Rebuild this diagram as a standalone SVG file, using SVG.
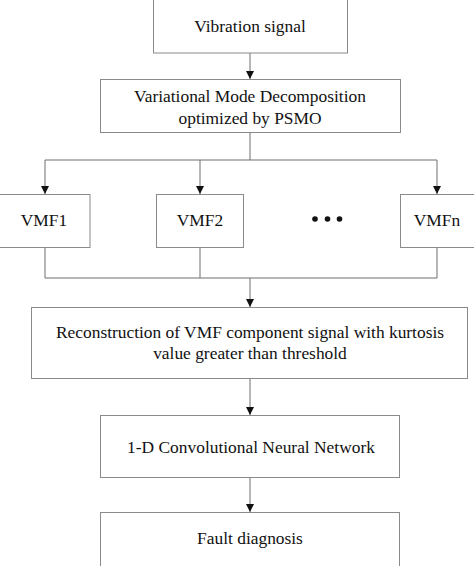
<svg xmlns="http://www.w3.org/2000/svg" width="474" height="566" viewBox="0 0 474 566">
<defs>
<style>
.box{fill:#fff;stroke:#8a8a8a;stroke-width:1}
.ln{fill:none;stroke:#6e6e6e;stroke-width:1}
text{font-family:"Liberation Serif","Times New Roman",serif;font-size:17.4px;fill:#111;text-anchor:middle}
</style>
<marker id="ah" viewBox="0 0 8 10" refX="8" refY="5" markerWidth="8" markerHeight="10" markerUnits="userSpaceOnUse" orient="auto">
<path d="M0,1 L8,5 L0,9 Z" fill="#111"/>
</marker>
</defs>
<rect width="474" height="566" fill="#fff"/>
<g id="connectors">
<line class="ln" x1="250" y1="53" x2="250" y2="79" marker-end="url(#ah)"/>
<line class="ln" x1="250" y1="132" x2="250" y2="160"/>
<line class="ln" x1="45" y1="160" x2="437" y2="160"/>
<line class="ln" x1="45" y1="160" x2="45" y2="194" marker-end="url(#ah)"/>
<line class="ln" x1="200" y1="160" x2="200" y2="194" marker-end="url(#ah)"/>
<line class="ln" x1="437" y1="160" x2="437" y2="194" marker-end="url(#ah)"/>
<line class="ln" x1="45" y1="247" x2="45" y2="278"/>
<line class="ln" x1="200" y1="247" x2="200" y2="278"/>
<line class="ln" x1="437" y1="247" x2="437" y2="278"/>
<line class="ln" x1="45" y1="278" x2="437" y2="278"/>
<line class="ln" x1="250" y1="278" x2="250" y2="307" marker-end="url(#ah)"/>
<line class="ln" x1="250" y1="378" x2="250" y2="415" marker-end="url(#ah)"/>
<line class="ln" x1="250" y1="477" x2="250" y2="512" marker-end="url(#ah)"/>
</g>
<g id="vibration">
<rect class="box" x="153.5" y="-5" width="194" height="58"/>
<text x="250" y="32">Vibration signal</text>
</g>
<g id="vmd">
<rect class="box" x="100.5" y="79.5" width="300" height="53"/>
<text x="250" y="102">Variational Mode Decomposition</text>
<text x="250" y="124">optimized by PSMO</text>
</g>
<g id="vmf1">
<rect class="box" x="-5" y="194.5" width="95" height="53"/>
<text x="44" y="226">VMF1</text>
</g>
<g id="vmf2">
<rect class="box" x="156.5" y="194.5" width="87" height="53"/>
<text x="200" y="226">VMF2</text>
</g>
<g id="dots">
<circle cx="315" cy="219" r="2.8" fill="#111"/>
<circle cx="327.5" cy="219" r="2.8" fill="#111"/>
<circle cx="339.5" cy="219" r="2.8" fill="#111"/>
</g>
<g id="vmfn">
<rect class="box" x="400.5" y="194.5" width="80" height="53"/>
<text x="437" y="226">VMFn</text>
</g>
<g id="reconstruction">
<rect class="box" x="31.5" y="307.5" width="436" height="71"/>
<text x="250" y="338">Reconstruction of VMF component signal with kurtosis</text>
<text x="250" y="359">value greater than threshold</text>
</g>
<g id="cnn">
<rect class="box" x="100.5" y="415.5" width="299" height="62"/>
<text x="251" y="453">1-D Convolutional Neural Network</text>
</g>
<g id="fault">
<rect class="box" x="100.5" y="512.5" width="299" height="70"/>
<text x="250" y="544">Fault diagnosis</text>
</g>
</svg>
